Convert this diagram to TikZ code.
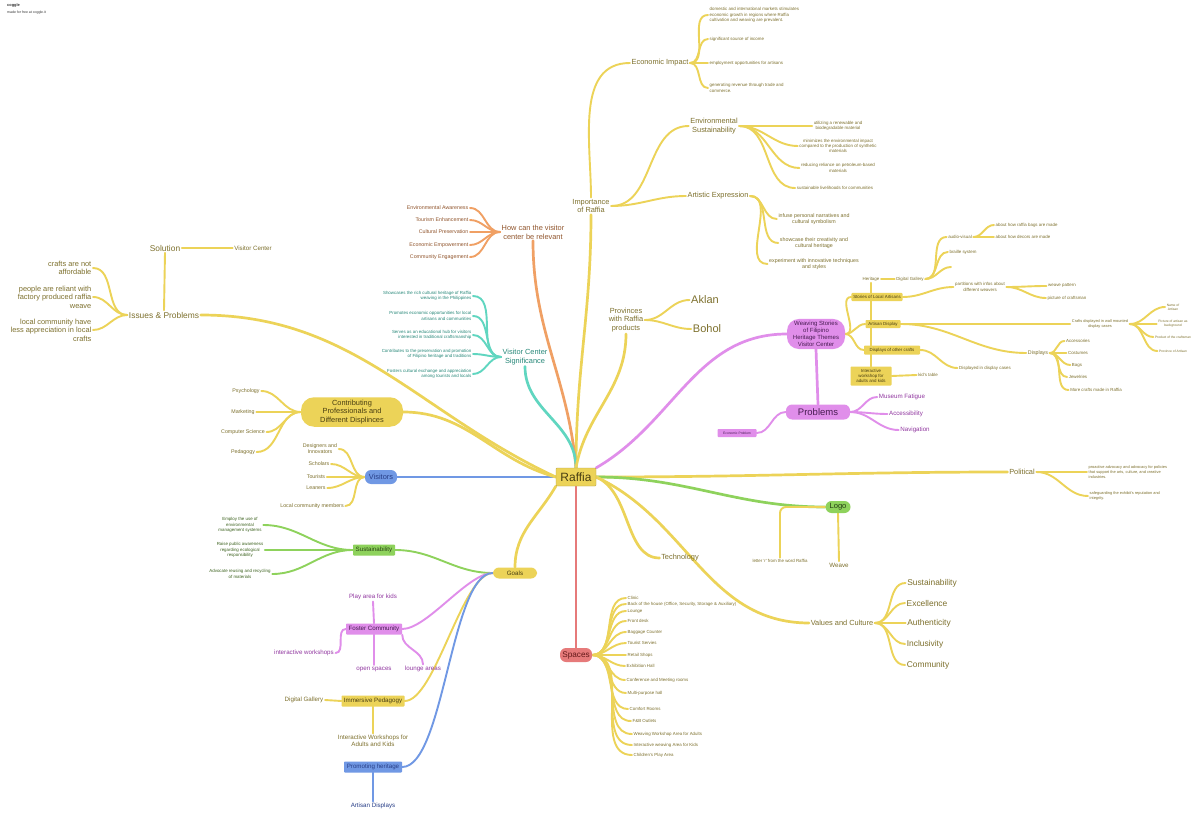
\documentclass[tikz,border=0pt]{standalone}
\usepackage{fontspec}
\setmainfont{Liberation Sans}
\definecolor{ylw}{RGB}{236,211,88}
\definecolor{olv}{RGB}{125,112,45}
\definecolor{hubtx}{RGB}{72,62,18}
\definecolor{orn}{RGB}{240,160,100}
\definecolor{orntx}{RGB}{145,85,45}
\definecolor{tea}{RGB}{96,214,192}
\definecolor{teatx}{RGB}{38,135,120}
\definecolor{pnk}{RGB}{224,142,234}
\definecolor{pnktx}{RGB}{145,55,160}
\definecolor{pnkdk}{RGB}{72,28,82}
\definecolor{blu}{RGB}{112,152,228}
\definecolor{blutx}{RGB}{40,62,135}
\definecolor{grn}{RGB}{142,210,92}
\definecolor{grntx}{RGB}{60,98,30}
\definecolor{rd}{RGB}{230,122,122}
\definecolor{rdtx}{RGB}{100,25,25}
\pgfdeclarelayer{bg}
\pgfsetlayers{bg,main}

\begin{document}
\begin{tikzpicture}[x=1pt,y=1pt,
  tx/.style={inner sep=1.5pt,align=center,text=olv},
  fA/.style={font=\fontsize{3.3}{4}\selectfont},
  fBs/.style={font=\fontsize{3.9}{4.8}\selectfont},
  fB/.style={font=\fontsize{4.4}{5.4}\selectfont},
  fC/.style={font=\fontsize{5.3}{6.2}\selectfont},
  fCC/.style={font=\fontsize{6.2}{7.2}\selectfont},
  fD/.style={font=\fontsize{7.4}{8.8}\selectfont},
  fI/.style={font=\fontsize{7.4}{8.4}\selectfont},
  fE/.style={font=\fontsize{8.4}{10}\selectfont},
  fF/.style={font=\fontsize{11}{13}\selectfont},
  box/.style={fill=#1,inner sep=1.8pt,align=center,rounded corners=0.8pt},
  pill/.style={fill=#1,rounded corners=6pt,inner sep=2.5pt,align=center},
  ylk/.style={draw=ylw,line width=1.9pt,line cap=round},
  olk/.style={draw=orn,line width=1.9pt,line cap=round},
  tlk/.style={draw=tea,line width=1.9pt,line cap=round},
  plk/.style={draw=pnk,line width=1.9pt,line cap=round},
  blk/.style={draw=blu,line width=1.9pt,line cap=round},
  glk/.style={draw=grn,line width=1.9pt,line cap=round},
  rlk/.style={draw=rd,line width=1.9pt,line cap=round},
  thk/.style={line width=2.7pt},
  rt/.style={out=0,in=180},
  lf/.style={out=180,in=0}
]
\useasboundingbox (0,0) rectangle (1200,-821);
\node[anchor=west,inner sep=0pt,font=\fontsize{3.9}{4.5}\selectfont\bfseries,text=black!80] (cg) at (7,-5.5) {coggle};
\node[anchor=west,inner sep=0pt,font=\fontsize{3.5}{4.2}\selectfont,text=black!80] (cgm) at (7,-12.5) {made for free at coggle.it};
\node[box=ylw,draw=ylw!75!black,line width=0.4pt,text=hubtx,font=\fontsize{12}{14}\selectfont,minimum width=40pt,minimum height=18pt] (raf) at (576,-477) {Raffia};

\node[tx,fD] (imp) at (591,-206) {Importance\\of Raffia};
\node[tx,fD] (eco) at (660,-63) {Economic Impact};
\node[tx,fD] (env) at (714,-126) {Environmental\\Sustainability};
\node[tx,fD] (art) at (718,-196) {Artistic Expression};
\node[tx,fB,anchor=west,align=left] (e1) at (708,-15) {domestic and international markets stimulates\\economic growth in regions where Raffia\\cultivation and weaving are prevalent.};
\node[tx,fB,anchor=west] (e2) at (708,-39) {significant source of income};
\node[tx,fB,anchor=west] (e3) at (708,-63) {employment opportunities for artisans};
\node[tx,fB,anchor=west,align=left] (e4) at (708,-88) {generating revenue through trade and\\commerce.};
\node[tx,fB] (n1) at (838,-126) {utilizing a renewable and\\biodegradable material};
\node[tx,fB] (n2) at (838,-146) {minimizes the environmental impact\\compared to the production of synthetic\\materials};
\node[tx,fB] (n3) at (838,-168) {reducing reliance on petroleum-based\\materials};
\node[tx,fB] (n4) at (835,-188) {sustainable livelihoods for communities};
\node[tx,fC] (a1) at (814,-219) {infuse personal narratives and\\cultural symbolism};
\node[tx,fC] (a2) at (814,-243) {showcase their creativity and\\cultural heritage};
\node[tx,fC] (a3) at (814,-264) {experiment with innovative techniques\\and styles};

\node[tx,fD,text=orntx] (rel) at (533,-232) {How can the visitor\\center be relevant};
\node[tx,fC,text=orntx,anchor=east] (o1) at (470,-208) {Environmental Awareness};
\node[tx,fC,text=orntx,anchor=east] (o2) at (470,-220) {Tourism Enhancement};
\node[tx,fC,text=orntx,anchor=east] (o3) at (470,-232) {Cultural Preservation};
\node[tx,fC,text=orntx,anchor=east] (o4) at (470,-245) {Economic Empowerment};
\node[tx,fC,text=orntx,anchor=east] (o5) at (470,-257) {Community Engagement};

\node[tx,fD,text=teatx] (sig) at (525,-357) {Visitor Center\\Significance};
\node[tx,fB,text=teatx,anchor=east,align=right] (t1) at (473,-296) {Showcases the rich cultural heritage of Raffia\\weaving in the Philippines};
\node[tx,fB,text=teatx,anchor=east,align=right] (t2) at (473,-316) {Promotes economic opportunities for local\\artisans and communities};
\node[tx,fB,text=teatx,anchor=east,align=right] (t3) at (473,-335) {Serves as an educational hub for visitors\\interested in traditional craftsmanship};
\node[tx,fB,text=teatx,anchor=east,align=right] (t4) at (473,-354) {Contributes to the preservation and promotion\\of Filipino heritage and traditions};
\node[tx,fB,text=teatx,anchor=east,align=right] (t5) at (473,-374) {Fosters cultural exchange and appreciation\\among tourists and locals};

\node[tx,fD] (prv) at (626,-320) {Provinces\\with Raffia\\products};
\node[tx,fF] (akl) at (705,-300) {Aklan};
\node[tx,fF] (boh) at (707,-329) {Bohol};

\node[pill=pnk,rounded corners=12pt,text=pnkdk,font=\fontsize{6}{6.9}\selectfont,minimum width=58pt,minimum height=30pt] (wsv) at (816,-334) {Weaving Stories\\of Filipino\\Heritage Themes\\Visitor Center};
\node[tx,fB] (her) at (871,-279) {Heritage};
\node[tx,fB] (dg) at (910,-279) {Digital Gallery};
\node[tx,fB] (av) at (960,-237) {audio-visual};
\node[tx,fB] (br) at (963,-252) {braille system};
\coordinate (dge) at (951,-267);
\node[tx,fB,anchor=west] (ar1) at (994,-225) {about how raffia bags are made};
\node[tx,fB,anchor=west] (ar2) at (994,-237) {about how decors are made};
\node[box=ylw,fB,text=hubtx,minimum width=50pt,minimum height=8pt] (sla) at (877,-297) {Stories of Local Artisans};
\node[tx,fB] (pw) at (980,-287) {partitions with infos about\\different weavers};
\node[tx,fB] (wp) at (1062,-286) {weave pattern};
\node[tx,fB] (pc) at (1067,-298) {picture of craftsman};
\node[box=ylw,fB,text=hubtx,minimum width=35pt,minimum height=8pt] (ad) at (883,-324) {Artisan Display};
\node[tx,fBs] (cw) at (1100,-324) {Crafts displayed in wall mounted\\display cases};
\node[tx,fA] (c1) at (1173,-307) {Name of\\Artisan};
\node[tx,fA] (c2) at (1173,-324) {Picture of artisan as\\background};
\node[tx,fA] (c3) at (1173,-337) {Product of the craftsman};
\node[tx,fA] (c4) at (1173,-351) {Province of Artisan};
\node[tx,fC] (dsp) at (1038,-353) {Displays};
\node[tx,fB] (d1) at (1078,-341) {Accessories};
\node[tx,fB] (d2) at (1078,-353) {Costumes};
\node[tx,fB] (d3) at (1077,-365) {Bags};
\node[tx,fB] (d4) at (1078,-377) {Jewelries};
\node[tx,fB] (d5) at (1096,-390) {More crafts made in Raffia};
\node[box=ylw,fB,text=hubtx,minimum width=56pt,minimum height=9pt] (doc) at (892,-350) {Displays of other crafts};
\node[tx,fB] (ddc) at (985,-368) {Displayed in display cases};
\node[box=ylw,fB,text=hubtx,minimum width=41pt,minimum height=19pt] (iw) at (871,-376) {Interactive\\workshop for\\adults and kids};
\node[tx,fB] (kt) at (928,-375) {kid's table};

\node[pill=pnk,text=pnkdk,font=\fontsize{9.5}{11}\selectfont,minimum width=64pt,minimum height=15pt] (prb) at (818,-412) {Problems};
\node[tx,fCC,text=pnktx] (mf) at (902,-397) {Museum Fatigue};
\node[tx,fCC,text=pnktx] (acc) at (906,-414) {Accessibility};
\node[tx,fCC,text=pnktx] (nav) at (915,-430) {Navigation};
\node[box=pnk,fA,text=pnkdk,minimum width=39pt,minimum height=8pt] (ep) at (737,-433) {Economic Problem};

\node[tx,fD] (pol) at (1022,-472) {Political};
\node[tx,fBs,anchor=west,align=left] (pl1) at (1087,-472) {proactive advocacy and advocacy for policies\\that support the arts, culture, and creative\\industries.};
\node[tx,fBs,anchor=west,align=left] (pl2) at (1088,-496) {safeguarding the exhibit's reputation and\\integrity.};

\node[pill=grn,text=grntx!60!black,font=\fontsize{7.6}{9}\selectfont,minimum width=25pt,minimum height=12pt,inner sep=1.5pt] (lg) at (838,-507) {Logo};
\node[tx,fB] (lr) at (780,-561) {letter \textquotesingle r\textquotesingle{} from the word Raffia};
\node[tx,fCC] (wv) at (839,-565) {Weave};
\node[tx,fD] (tec) at (680,-558) {Technology};

\node[tx,fD] (vc) at (842,-623) {Values and Culture};
\node[tx,fE] (vs1) at (932,-583) {Sustainability};
\node[tx,fE] (vs2) at (927,-603) {Excellence};
\node[tx,fE] (vs3) at (929,-623) {Authenticity};
\node[tx,fE] (vs4) at (925,-644) {Inclusivity};
\node[tx,fE] (vs5) at (928,-665) {Community};

\node[pill=rd,text=rdtx,font=\fontsize{8.2}{10}\selectfont,minimum width=32pt,minimum height=14pt,inner sep=1.5pt] (spc) at (576,-655) {Spaces};
\node[tx,fB,anchor=west] (s1) at (626,-598) {Clinic};
\node[tx,fB,anchor=west] (s2) at (626,-604) {Back of the house (Office, Security, Storage \& Auxiliary)};
\node[tx,fB,anchor=west] (s3) at (626,-611) {Lounge};
\node[tx,fB,anchor=west] (s4) at (626,-621) {Front desk};
\node[tx,fB,anchor=west] (s5) at (626,-632) {Baggage Counter};
\node[tx,fB,anchor=west] (s6) at (626,-643) {Tourist Servies};
\node[tx,fB,anchor=west] (s7) at (626,-655) {Retail Shops};
\node[tx,fB,anchor=west] (s8) at (625,-666) {Exhibition Hall};
\node[tx,fB,anchor=west] (s9) at (625,-680) {Conference and Meeting rooms};
\node[tx,fB,anchor=west] (s10) at (626,-693) {Multi-purpose hall};
\node[tx,fB,anchor=west] (s11) at (628,-709) {Comfort Rooms};
\node[tx,fB,anchor=west] (s12) at (631,-721) {F\&B Outlets};
\node[tx,fB,anchor=west] (s13) at (632,-734) {Weaving Workshop Area for Adults};
\node[tx,fB,anchor=west] (s14) at (632,-745) {Interactive weaving Area for Kids};
\node[tx,fB,anchor=west] (s15) at (632,-755) {Children's Play Area};

\node[pill=ylw,fCC,text=hubtx,minimum width=44pt,minimum height=11pt,inner sep=1.5pt] (gls) at (515,-573) {Goals};
\node[box=grn,fCC,text=grntx!70!black,minimum width=42pt,minimum height=11pt] (sus) at (374,-550) {Sustainability};
\node[tx,fB,text=grntx] (su1) at (240,-525) {Employ the use of\\environmental\\management systems};
\node[tx,fB,text=grntx] (su2) at (240,-550) {Raise public awareness\\regarding ecological\\responsibility};
\node[tx,fB,text=grntx] (su3) at (240,-574) {Advocate reusing and recycling\\of materials};
\node[box=pnk,fCC,text=pnkdk,minimum width=56pt,minimum height=11pt] (fcm) at (374,-629) {Foster Community};
\node[tx,fCC,text=pnktx] (pla) at (373,-597) {Play area for kids};
\node[tx,fCC,text=pnktx] (iws) at (304,-653) {interactive workshops};
\node[tx,fCC,text=pnktx] (osp) at (374,-669) {open spaces};
\node[tx,fCC,text=pnktx] (lng) at (423,-669) {lounge areas};
\node[box=ylw,fCC,text=hubtx,minimum width=63pt,minimum height=11pt] (ip) at (373,-701) {Immersive Pedagogy};
\node[tx,fCC] (dgl) at (304,-700) {Digital Gallery};
\node[tx,fCC] (iwa) at (373,-741) {Interactive Workshops for\\Adults and Kids};
\node[box=blu,fCC,text=blutx,minimum width=58pt,minimum height=11pt] (ph) at (373,-767) {Promoting heritage};
\node[tx,fCC,text=blutx] (adp) at (373,-806) {Artisan Displays};

\node[pill=blu,fD,text=blutx,minimum width=32pt,minimum height=14pt,inner sep=1.5pt] (vis) at (381,-477) {Visitors};
\node[tx,fC] (v1) at (320,-449) {Designers and\\Innovators};
\node[tx,fC] (v2) at (319,-464) {Scholars};
\node[tx,fC] (v3) at (316,-477) {Tourists};
\node[tx,fC] (v4) at (316,-488) {Leaners};
\node[tx,fC] (v5) at (312,-506) {Local community members};

\node[pill=ylw,rounded corners=13pt,fD,text=hubtx,minimum width=102pt,minimum height=29pt] (cp) at (352,-412) {Contributing\\Professionals and\\Different Displinces};
\node[tx,fC] (p1) at (246,-391) {Psychology};
\node[tx,fC] (p2) at (243,-412) {Marketing};
\node[tx,fC] (p3) at (243,-432) {Computer Science};
\node[tx,fC] (p4) at (243,-452) {Pedagogy};

\node[tx,fE] (iss) at (164,-315) {Issues \& Problems};
\node[tx,fI,anchor=east,align=right] (i1) at (93,-268) {crafts are not\\affordable};
\node[tx,fI,anchor=east,align=right] (i2) at (93,-297) {people are reliant with\\factory produced raffia\\weave};
\node[tx,fI,anchor=east,align=right] (i3) at (93,-330) {local community have\\less appreciation in local\\crafts};
\node[tx,fE] (sol) at (165,-248) {Solution};
\node[tx,fCC] (vcn) at (253,-248) {Visitor Center};

\begin{pgfonlayer}{bg}
\fill[white] (0,0) rectangle (1200,-821);
\draw[ylk,thk] (raf.north) to[out=90,in=-90] (imp.south); \draw[olk,thk] (raf.north) to[out=95,in=-90] (rel.south);
\draw[tlk,thk] (raf.north) to[out=90,in=-90] (sig.south); \draw[ylk,thk] (raf.north) to[out=80,in=-90] (prv.south);
\draw[plk,thk] (raf.north east) to[out=30,in=180] (wsv.west); \draw[ylk,thk] (raf.east) to[rt] (pol.west);
\draw[glk,thk] (raf.east) to[rt] (lg.west); \draw[ylk,thk] (raf.east) .. controls +(35,-15) and +(-35,0) .. (tec.west);
\draw[ylk,thk] (raf.east) to[out=-25,in=180] (vc.west); \draw[rlk,thk] (raf.south) -- (spc.north);
\draw[ylk,thk] (raf.south west) to[out=-120,in=90] (gls.north); \draw[blk,thk] (raf.west) -- (vis.east);
\draw[ylk,thk] (raf.west) to[out=165,in=0] (cp.east); \draw[ylk,thk] (raf.west) to[out=155,in=0] (iss.east);

\draw[ylk] (imp.north) to[out=90,in=180] (eco.west); \draw[ylk] (imp.east) to[rt] (env.west); \draw[ylk] (imp.east) to[rt] (art.west);
\draw[ylk] (eco.east) to[rt] (e1.west); \draw[ylk] (eco.east) to[rt] (e2.west); \draw[ylk] (eco.east) to[rt] (e3.west); \draw[ylk] (eco.east) to[rt] (e4.west);
\draw[ylk] (env.east) to[rt] (n1.west); \draw[ylk] (env.east) to[rt] (n2.west); \draw[ylk] (env.east) to[rt] (n3.west); \draw[ylk] (env.east) to[rt] (n4.west);
\draw[ylk] (art.east) to[rt] (a1.west); \draw[ylk] (art.east) to[rt] (a2.west); \draw[ylk] (art.east) to[rt] (a3.west);

\draw[olk] (rel.west) to[lf] (o1.east); \draw[olk] (rel.west) to[lf] (o2.east); \draw[olk] (rel.west) to[lf] (o3.east);
\draw[olk] (rel.west) to[lf] (o4.east); \draw[olk] (rel.west) to[lf] (o5.east);
\draw[tlk] (sig.west) to[lf] (t1.east); \draw[tlk] (sig.west) to[lf] (t2.east); \draw[tlk] (sig.west) to[lf] (t3.east);
\draw[tlk] (sig.west) to[lf] (t4.east); \draw[tlk] (sig.west) to[lf] (t5.east);
\draw[ylk] (prv.east) to[rt] (akl.west); \draw[ylk] (prv.east) to[rt] (boh.west);

\draw[ylk] (wsv.east) to[rt] (sla.west); \draw[ylk] (wsv.east) to[rt] (ad.west); \draw[ylk] (wsv.east) to[rt] (doc.west);
\draw[ylk] (her.south) -- (iw.north); \draw[ylk] (her.east) -- (dg.west);
\draw[ylk] (dg.east) to[rt] (av.west); \draw[ylk] (dg.east) to[rt] (br.west); \draw[ylk] (dg.east) to[rt] (dge);
\draw[ylk] (av.east) to[rt] (ar1.west); \draw[ylk] (av.east) to[rt] (ar2.west);
\draw[ylk] (sla.east) to[rt] (pw.west); \draw[ylk] (pw.east) to[rt] (wp.west); \draw[ylk] (pw.east) to[rt] (pc.west);
\draw[ylk] (ad.east) -- (cw.west); \draw[ylk] (ad.east) to[rt] (dsp.west);
\draw[ylk] (cw.east) to[rt] (c1.west); \draw[ylk] (cw.east) to[rt] (c2.west); \draw[ylk] (cw.east) to[rt] (c3.west); \draw[ylk] (cw.east) to[rt] (c4.west);
\draw[ylk] (dsp.east) to[rt] (d1.west); \draw[ylk] (dsp.east) to[rt] (d2.west); \draw[ylk] (dsp.east) to[rt] (d3.west);
\draw[ylk] (dsp.east) to[rt] (d4.west); \draw[ylk] (dsp.east) to[rt] (d5.west);
\draw[ylk] (doc.east) to[rt] (ddc.west); \draw[ylk] (iw.east) -- (kt.west);

\draw[plk,thk] (wsv.south) -- (prb.north);
\draw[plk] (prb.east) to[rt] (mf.west); \draw[plk] (prb.east) to[rt] (acc.west); \draw[plk] (prb.east) to[rt] (nav.west);
\draw[plk] (prb.west) to[lf] (ep.east);

\draw[ylk] (pol.east) to[rt] (pl1.west); \draw[ylk] (pol.east) to[rt] (pl2.west);
\draw[ylk,rounded corners=6pt] (lg.west) -| (lr.north); \draw[ylk] (lg.south) -- (wv.north);

\draw[ylk] (vc.east) to[rt] (vs1.west); \draw[ylk] (vc.east) to[rt] (vs2.west); \draw[ylk] (vc.east) to[rt] (vs3.west);
\draw[ylk] (vc.east) to[rt] (vs4.west); \draw[ylk] (vc.east) to[rt] (vs5.west);

\draw[ylk] (spc.east) to[rt] (s1.west); \draw[ylk] (spc.east) to[rt] (s2.west); \draw[ylk] (spc.east) to[rt] (s3.west);
\draw[ylk] (spc.east) to[rt] (s4.west); \draw[ylk] (spc.east) to[rt] (s5.west); \draw[ylk] (spc.east) to[rt] (s6.west);
\draw[ylk] (spc.east) to[rt] (s7.west); \draw[ylk] (spc.east) to[rt] (s8.west); \draw[ylk] (spc.east) to[rt] (s9.west);
\draw[ylk] (spc.east) to[rt] (s10.west); \draw[ylk] (spc.east) to[rt] (s11.west); \draw[ylk] (spc.east) to[rt] (s12.west);
\draw[ylk] (spc.east) to[rt] (s13.west); \draw[ylk] (spc.east) to[rt] (s14.west); \draw[ylk] (spc.east) to[rt] (s15.west);

\draw[glk] (gls.west) to[lf] (sus.east);
\draw[plk] (gls.west) to[lf,looseness=0.6] (fcm.east); \draw[ylk] (gls.west) to[lf,looseness=0.5] (ip.east);
\draw[blk] (gls.west) to[lf,looseness=0.5] (ph.east);
\draw[glk] (sus.west) to[lf] (su1.east); \draw[glk] (sus.west) to[lf] (su2.east); \draw[glk] (sus.west) to[lf] (su3.east);
\draw[plk] (fcm.north) -- (pla.south); \draw[plk] (fcm.west) to[lf] (iws.east);
\draw[plk] (fcm.south) to[out=-90,in=90] (osp.north); \draw[plk] (fcm.south east) to[out=-90,in=90] (lng.north);
\draw[ylk] (ip.west) -- (dgl.east); \draw[ylk] (ip.south) -- (iwa.north);
\draw[blk] (ph.south) -- (adp.north);

\draw[ylk] (vis.west) to[lf] (v1.east); \draw[ylk] (vis.west) to[lf] (v2.east); \draw[ylk] (vis.west) to[lf] (v3.east);
\draw[ylk] (vis.west) to[lf] (v4.east); \draw[ylk] (vis.west) to[lf] (v5.east);
\draw[ylk] (cp.west) to[lf] (p1.east); \draw[ylk] (cp.west) to[lf] (p2.east); \draw[ylk] (cp.west) to[lf] (p3.east); \draw[ylk] (cp.west) to[lf] (p4.east);
\draw[ylk] (iss.west) to[lf] (i1.east); \draw[ylk] (iss.west) to[lf] (i2.east); \draw[ylk] (iss.west) to[lf] (i3.east);
\draw[ylk] (iss.north) -- (sol.south); \draw[ylk] (sol.east) -- (vcn.west);
\end{pgfonlayer}
\end{tikzpicture}
\end{document}
